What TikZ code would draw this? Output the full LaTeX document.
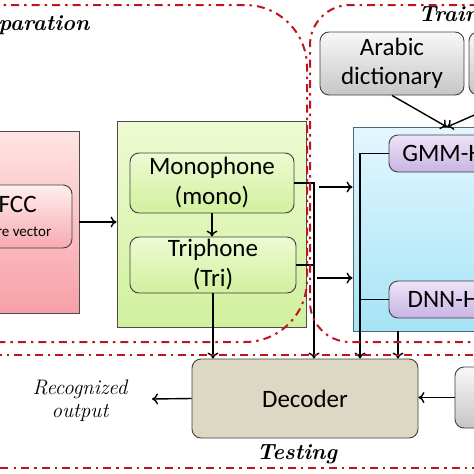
\documentclass[tikz,border=0pt]{standalone}
\usepackage{fontspec}
\newfontfamily\calib{Carlito}
\usetikzlibrary{arrows.meta}

\definecolor{regred}{RGB}{190,20,30}
\definecolor{pinkT}{RGB}{255,228,228}
\definecolor{pinkB}{RGB}{246,160,166}
\definecolor{greenT}{RGB}{238,251,210}
\definecolor{greenB}{RGB}{208,240,158}
\definecolor{blueT}{RGB}{228,246,255}
\definecolor{blueB}{RGB}{165,228,245}
\definecolor{purpT}{RGB}{238,228,248}
\definecolor{purpB}{RGB}{200,180,228}
\definecolor{grayT}{RGB}{248,248,248}
\definecolor{grayB}{RGB}{198,198,198}
\definecolor{decfill}{RGB}{221,216,196}

\begin{document}
\begin{tikzpicture}[x=1pt, y=-1pt,
  box/.style={draw=black!75, line width=0.9pt, rounded corners=9pt, inner sep=0pt,
    align=center, font=\calib\fontsize{25}{30}\selectfont},
  area/.style={draw=black!70, line width=0.9pt, inner sep=0pt},
  region/.style={draw=regred, line width=2pt, dash pattern=on 8pt off 5pt on 2.5pt off 5pt},
  arr/.style={-{To[length=6pt,width=11pt]}, line width=1.4pt},
  lbl/.style={font=\bfseries\itshape\fontsize{22}{22}\selectfont}]
\useasboundingbox (0,0) rectangle (474,474);
\clip (0,0) rectangle (474,474);
% 特征
\node[area, minimum width=160pt, minimum height=182pt, top color=pinkT, bottom color=pinkB] (mfccarea) at (-1,222) {};
\node[box, minimum width=130pt, minimum height=63pt, top color=pinkT!60, bottom color=pinkB!90] (mfcc) at (7,216.5)
  {MFCC\\[-6pt]{\fontsize{15}{15}\selectfont Feature vector}};
% 声学模型
\node[area, minimum width=189pt, minimum height=206pt, top color=greenT, bottom color=greenB] (green) at (211.5,224) {};
\node[box, minimum width=164pt, minimum height=60pt, top color=greenT, bottom color=greenB] (mono) at (212,183) {Monophone\\(mono)};
\node[box, minimum width=166pt, minimum height=56pt, top color=greenT, bottom color=greenB] (tri) at (213,265) {Triphone\\(Tri)};
% 训练
\node[area, draw=black!60!cyan, minimum width=207pt, minimum height=204pt, top color=blueT, bottom color=blueB] (blue) at (456.5,229) {};
\node[box, minimum width=151pt, minimum height=37pt, top color=purpT, bottom color=purpB] (gmm) at (464.5,153.5) {GMM-HMM};
\node[box, minimum width=151pt, minimum height=37pt, top color=purpT, bottom color=purpB] (dnn) at (464.5,299.5) {DNN-HMM};
\node[box, minimum width=144pt, minimum height=63pt, top color=grayT, bottom color=grayB, font=\calib\fontsize{25}{29}\selectfont] (dict) at (392,63.5) {Arabic\\dictionary};
\node[box, minimum width=100pt, minimum height=63pt, top color=grayT, bottom color=grayB] (dict2) at (519,63.5) {};
% 测试
\node[box, minimum width=226pt, minimum height=79pt, fill=decfill] (dec) at (305,398.5) {Decoder};
\node[box, minimum width=100pt, minimum height=61pt, top color=grayT, bottom color=grayB] (rbox) at (505,397.5) {};
\node[font=\itshape\fontsize{21}{23}\selectfont, align=center] (recog) at (80,401) {Recognized\\output};
% 连线
\coordinate (tap) at (314,183);
\coordinate (bus) at (360,150);
\coordinate (bdown) at (398,0);
\coordinate (g1) at (319,187);
\coordinate (g2) at (317,278);
\coordinate (bluein) at (447,127);
\coordinate (outtip) at (152,399);
\draw[arr] (mfccarea.east) -- (mfccarea.east -| green.west);
\draw[arr] (mono.south) -- (mono.south |- tri.north);
\draw[line width=1.4pt] (tri.east) -- (tri.east -| tap);
\draw[arr] (mono.east) -- (tap) -- (tap |- dec.north);
\draw[arr] (tri.south) -- (tri.south |- dec.north);
\draw[arr] (g1) -- (g1 -| blue.west);
\draw[arr] (g2) -- (g2 -| blue.west);
\draw[arr] (gmm.west) -| (bus |- dec.north);
\draw[line width=1.4pt] (dnn.west) -- (dnn.west -| bus);
\draw[arr] (blue.south -| bdown) -- (dec.north -| bdown);
\draw[arr] (dict.south) -- (bluein);
\draw[arr] (dict2.south) -- (bluein);
\draw[arr] (dec.west) -- (outtip);
\draw[arr] (rbox.west) -- (rbox.west -| dec.east);
% 区域
\draw[region, rounded corners=62pt] (-30,5) -- (307,5) -- (307,342) -- (-30,342);
\draw[region, rounded corners=40pt] (580,5) -- (310,5) -- (310,342) -- (580,342);
\draw[region] (-30,355) rectangle (580,468);
%Text
\node[lbl, anchor=east] (prep) at (93,25) {Preparation};
\node[lbl, anchor=west] (train) at (415,16) {Training};
\node[lbl] (test) at (297,454) {Testing};
\end{tikzpicture}
\end{document}
